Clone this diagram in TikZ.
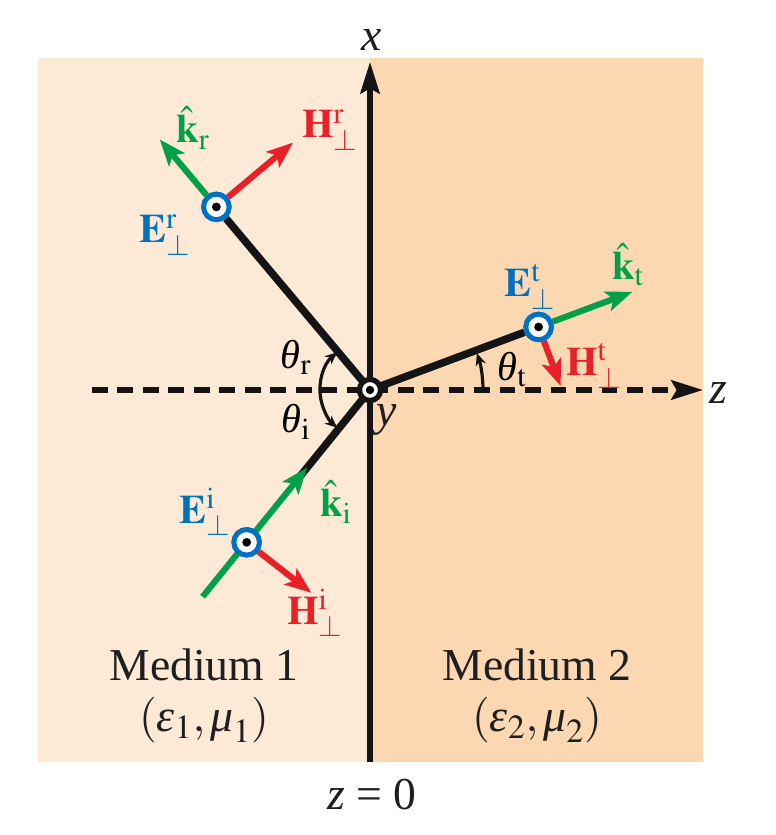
\documentclass[tikz,border=0pt]{standalone}
\usepackage{mathptmx}
\usepackage[no-math]{fontspec}
\setmainfont{Liberation Serif}
\usetikzlibrary{arrows.meta}
\definecolor{bgone}{RGB}{253,234,214}
\definecolor{bgtwo}{RGB}{251,216,178}
\definecolor{eblue}{RGB}{0,112,192}
\definecolor{kgreen}{RGB}{0,160,72}
\definecolor{hred}{RGB}{232,32,40}
\newcommand{\itx}[1]{\textit{#1}}
\begin{document}
\begin{tikzpicture}[x=0.02cm,y=0.02cm,
  ray/.style={line width=4.3pt, black!92},
  axisline/.style={line width=3pt, black!92, -{Stealth[length=18pt,width=11pt,inset=3pt]}},
  kvec/.style={line width=3.5pt, kgreen, -{Stealth[length=15pt,width=11.5pt,inset=3.5pt]}},
  hvec/.style={line width=3.5pt, hred, -{Stealth[length=15pt,width=11.5pt,inset=3.5pt]}},
  anglearc/.style={line width=1.8pt, black!92},
  edot/.style={circle, draw=eblue, line width=2.8pt, fill=white, minimum size=14.5pt, inner sep=0pt,
    path picture={\fill[black] (path picture bounding box.center) circle (2.5pt);}},
  odot/.style={circle, draw=black!92, line width=3pt, fill=white, minimum size=12pt, inner sep=0pt,
    path picture={\fill[black] (path picture bounding box.center) circle (2.4pt);}},
  lbl/.style={font=\fontsize{23}{27}\selectfont, inner sep=0pt},
  big/.style={font=\fontsize{26}{31}\selectfont, inner sep=0pt, text=black!88}
]
\useasboundingbox (0,0) rectangle (775,835);
\fill[bgone] (38,73) rectangle (370,777);
\fill[bgtwo] (370,73) rectangle (703,777);

% axes
\coordinate (xb) at (370,73);
\coordinate (xt) at (370,773);
\coordinate (zl) at (92,445);
\coordinate (zr) at (703,445);
\draw[axisline] (xb) -- (xt);
\draw[line width=3.2pt, black!92, dash pattern=on 9pt off 5.5pt, -{Stealth[length=18pt,width=11pt,inset=3pt]}] (zl) -- (zr);

\coordinate (O) at (370,445);

% points
\node[edot] (Er) at ([shift={(130:239)}]O) {};
\node[edot] (Et) at ([shift={(20.5:180)}]O) {};
\node[edot] (Ei) at ([shift={(231:196)}]O) {};
\coordinate (kiS) at ([shift={(231:266)}]O);
\coordinate (kiT) at ([shift={(231:100)}]O);
\coordinate (rayI) at ([shift={(231:110)}]O);
\coordinate (krT) at ([shift={(130:88)}]Er);
\coordinate (hrT) at ([shift={(40:100)}]Er);
\coordinate (ktT) at ([shift={(20.5:100)}]Et);
\coordinate (htT) at ([shift={(-69.5:63)}]Et);
\coordinate (hiT) at ([shift={(-38:82)}]Ei);

% rays
\draw[ray] (O) -- (Er);
\draw[ray] (O) -- (Et);
\draw[ray] (O) -- (rayI);

% vectors
\draw[kvec] (Er) -- (krT);
\draw[hvec] (Er) -- (hrT);
\draw[kvec] (Et) -- (ktT);
\draw[hvec] (Et) -- (htT);
\draw[kvec] (kiS) -- (kiT);
\draw[hvec] (Ei) -- (hiT);

% redraw circles on top
\node[edot] at (Er) {};
\node[edot] at (Et) {};
\node[edot] at (Ei) {};
\node[odot] (On) at (O) {};

% angle arcs
\draw[anglearc, {Stealth[length=7pt,width=6pt]}-{Stealth[length=7pt,width=6pt]}]
  ([shift={(131:50)}]O) arc[start angle=131, end angle=229, radius=50];
\draw[anglearc, -{Stealth[length=7pt,width=6pt]}]
  ([shift={(0:113)}]O) arc[start angle=0, end angle=19, radius=113];

% labels
\node[lbl, text=kgreen] (lkr) at (193,707) {$\hat{\mathbf{k}}_{\mathrm{r}}$};
\node[lbl, text=hred] (lhr) at (330,705) {$\mathbf{H}_{\perp}^{\mathrm{r}}$};
\node[lbl, text=eblue] (ler) at (165,600) {$\mathbf{E}_{\perp}^{\mathrm{r}}$};
\node[lbl, text=eblue] (let) at (530,548) {$\mathbf{E}_{\perp}^{\mathrm{t}}$};
\node[lbl, text=kgreen] (lkt) at (628,570) {$\hat{\mathbf{k}}_{\mathrm{t}}$};
\node[lbl, text=hred] (lht) at (594,469) {$\mathbf{H}_{\perp}^{\mathrm{t}}$};
\node[lbl, text=eblue] (lei) at (205,323) {$\mathbf{E}_{\perp}^{\mathrm{i}}$};
\node[lbl, text=kgreen] (lki) at (336,333) {$\hat{\mathbf{k}}_{\mathrm{i}}$};
\node[lbl, text=hred] (lhi) at (315,222) {$\mathbf{H}_{\perp}^{\mathrm{i}}$};
\node[lbl] (thr) at (296,478) {$\itx{θ}_{\mathrm{r}}$};
\node[lbl] (thi) at (296,413) {$\itx{θ}_{\mathrm{i}}$};
\node[lbl] (tht) at (512,465) {$\itx{θ}_{\mathrm{t}}$};
\node[big] (lx) at (372,795) {\itx{x}};
\node[big] (lz) at (718,442) {\itx{z}};
\node[big] (ly) at (387,415) {\itx{y}};
\node[big] (m1) at (204,170) {Medium 1};
\node[big] (p1) at (204,115) {$(\itx{ε}_1, \itx{μ}_1)$};
\node[big] (m2) at (537,170) {Medium 2};
\node[big] (p2) at (537,115) {$(\itx{ε}_2, \itx{μ}_2)$};
\node[big] (z0) at (372,40) {\itx{z} = 0};
\end{tikzpicture}
\end{document}
